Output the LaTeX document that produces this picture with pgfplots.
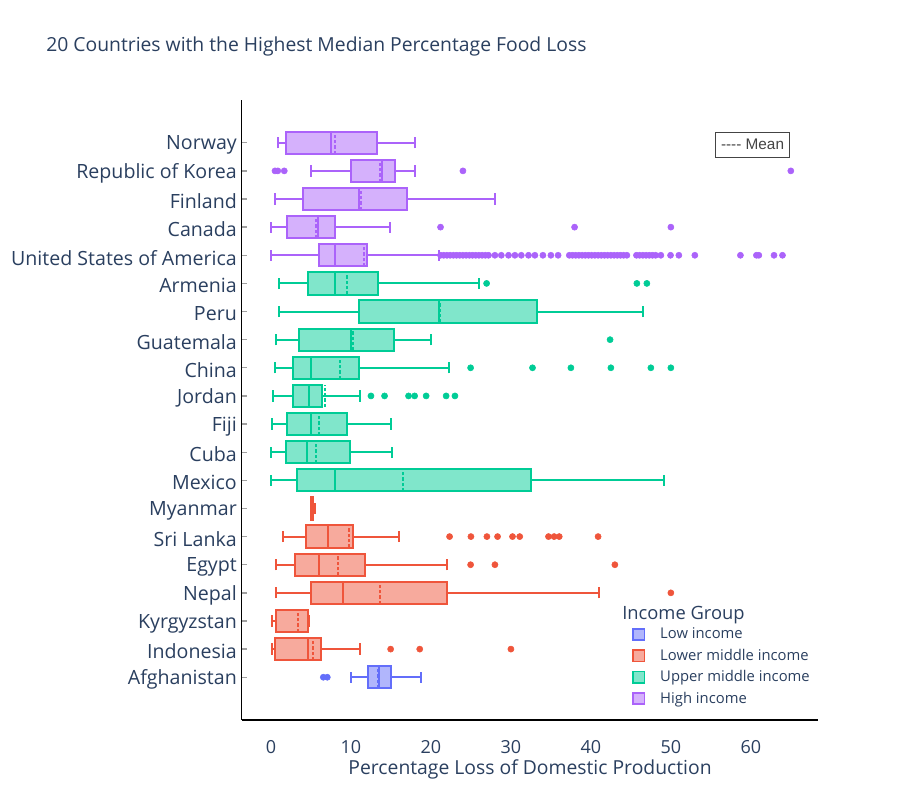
\documentclass[border=0pt]{standalone}
\usepackage{fontspec}
\setmainfont{Open Sans}
\newfontfamily\arialfont{Liberation Sans}
\usepackage{pgfplots}
\pgfplotsset{compat=1.18}
\usepgfplotslibrary{statistics}
\definecolor{lowc}{HTML}{636EFA}
\definecolor{lmc}{HTML}{EF553B}
\definecolor{umc}{HTML}{00CC96}
\definecolor{hic}{HTML}{AB63FA}
\definecolor{txt}{HTML}{2A3F5F}
\definecolor{meanc}{HTML}{444444}
\pgfplotsset{
  bx/.style={draw=#1, line width=1.5pt, solid,
    boxplot/draw direction=x,
    boxplot/every box/.style={fill=#1!50!white},
    boxplot/box extend=0.79, boxplot/whisker extend=0.4},
  outl/.style={only marks, mark=*, mark size=2.3pt, color=#1, mark options={draw=none, fill=#1}, forget plot},
  boxplot/draw/average/.code={%
    \draw[dash pattern=on 2.5pt off 1.5pt] (boxplot box cs:\pgfplotsboxplotvalue{average},0) -- (boxplot box cs:\pgfplotsboxplotvalue{average},1);},
  sq/.style={legend image code/.code={\draw[draw=#1, fill=#1!50!white, line width=1.3pt] (0pt,-4.2pt) rectangle (8.4pt,4.2pt);}}
}
\begin{document}
\begin{tikzpicture}
\useasboundingbox (0,0) rectangle (675pt,600pt);
\begin{axis}[
  at={(181.3pt,60pt)}, anchor=south west,
  scale only axis, width=432.2pt, height=465pt,
  xmin=-3.66, xmax=68.4, ymin=-1.52, ymax=20.52,
  axis lines*=left,
  axis line style={-, black, line width=0.8pt},
  xtick={0,10,...,60},
  xtick style={draw=none},
  ytick={0,...,19},
  yticklabels={Afghanistan,Indonesia,Kyrgyzstan,Nepal,Egypt,Sri Lanka,Myanmar,Mexico,Cuba,Fiji,Jordan,China,Guatemala,Peru,Armenia,United States of America,Canada,Finland,Republic of Korea,Norway},
  tick align=inside,
  ytick style={draw=gray!75, line width=1pt},
  major tick length=3.75pt,
  /pgf/number format/assume math mode=true,
  yticklabel style={font=\fontsize{14.7}{17}\selectfont, text=txt, inner sep=0pt, xshift=-3.5pt, yshift=-1.8pt},
  xticklabel style={font=\fontsize{13.5}{16}\selectfont, text=txt, yshift=-12pt},
  title={20 Countries with the Highest Median Percentage Food Loss},
  title style={at={(-0.3396,1.0903)}, anchor=west, yshift=-7.5pt, font=\fontsize{14.5}{17}\selectfont, text=txt, inner sep=0pt},
  xlabel={Percentage Loss of Domestic Production},
  xlabel style={at={(0.5003,-0.0774)}, anchor=center, yshift=-0.75pt, font=\fontsize{14.5}{17}\selectfont, text=txt, inner sep=0pt},
  legend style={at={(0.6773,0.1556)}, anchor=north west, draw=none, fill=none, inner sep=0pt,
    font=\fontsize{11.1}{13}\selectfont, text=txt, row sep=0pt, column sep=11.25pt,
    nodes={inner sep=0pt, minimum height=16pt}},
  legend cell align=left,
  clip=false,
]
\addlegendimage{sq=lowc}\addlegendentry{Low income}
\addlegendimage{sq=lmc}\addlegendentry{Lower middle income}
\addlegendimage{sq=umc}\addlegendentry{Upper middle income}
\addlegendimage{sq=hic}\addlegendentry{High income}

% High income
\addplot[bx=hic, boxplot prepared={draw position=19, lower whisker=0.83, lower quartile=1.9, median=7.46, upper quartile=13.25, upper whisker=17.96, average=8.0}] coordinates {};
\addplot[bx=hic, boxplot prepared={draw position=18, lower whisker=5.0, lower quartile=9.96, median=13.9, upper quartile=15.5, upper whisker=17.96, average=13.67}] coordinates {};
\addplot[outl=hic] coordinates {(0.5,18) (0.85,18) (1.66,18) (24.0,18) (65.0,18)};
\addplot[bx=hic, boxplot prepared={draw position=17, lower whisker=0.46, lower quartile=3.96, median=11.0, upper quartile=17.0, upper whisker=28.0, average=11.3}] coordinates {};
\addplot[bx=hic, boxplot prepared={draw position=16, lower whisker=0, lower quartile=1.96, median=5.83, upper quartile=8.04, upper whisker=14.9, average=5.67}] coordinates {};
\addplot[outl=hic] coordinates {(21.2,16) (37.96,16) (50.0,16)};
\addplot[bx=hic, boxplot prepared={draw position=15, lower whisker=0, lower quartile=5.96, median=8.0, upper quartile=12.0, upper whisker=21.0, average=11.67}] coordinates {};
\addplot[outl=hic] coordinates {
(21.2,15) (21.6,15) (22.0,15) (22.4,15) (22.8,15) (23.2,15) (23.6,15) (24.0,15)
(24.4,15) (24.8,15) (25.2,15) (25.6,15) (26.0,15) (26.4,15) (26.8,15) (27.2,15)
(28.0,15) (28.8,15) (29.7,15) (30.5,15) (31.3,15) (32.2,15) (33.0,15) (34.0,15) (35.0,15) (35.9,15)
(37.3,15) (37.7,15) (38.1,15) (38.5,15) (38.9,15) (39.3,15) (39.7,15) (40.1,15) (40.5,15) (40.9,15)
(41.3,15) (41.7,15) (42.1,15) (42.5,15) (42.9,15) (43.3,15) (43.7,15) (44.1,15) (44.5,15)
(45.7,15) (46.1,15) (46.5,15) (46.9,15) (47.3,15) (47.7,15) (48.1,15) (48.75,15) (49.96,15)
(51.0,15) (53.0,15) (58.7,15) (60.7,15) (61.0,15) (62.9,15) (63.96,15)};

% Upper middle income
\addplot[bx=umc, boxplot prepared={draw position=14, lower whisker=1.0, lower quartile=4.58, median=8.04, upper quartile=13.4, upper whisker=26.0, average=9.54}] coordinates {};
\addplot[outl=umc] coordinates {(26.96,14) (45.75,14) (47.0,14)};
\addplot[bx=umc, boxplot prepared={draw position=13, lower whisker=1.0, lower quartile=11.0, median=21.0, upper quartile=33.3, upper whisker=46.5, average=21.1}] coordinates {};
\addplot[bx=umc, boxplot prepared={draw position=12, lower whisker=0.58, lower quartile=3.54, median=9.96, upper quartile=15.4, upper whisker=20.0, average=10.2}] coordinates {};
\addplot[outl=umc] coordinates {(42.4,12)};
\addplot[bx=umc, boxplot prepared={draw position=11, lower whisker=0.5, lower quartile=2.7, median=4.96, upper quartile=11.0, upper whisker=22.2, average=8.58}] coordinates {};
\addplot[outl=umc] coordinates {(24.96,11) (32.7,11) (37.5,11) (42.5,11) (47.5,11) (50.0,11)};
\addplot[bx=umc, boxplot prepared={draw position=10, lower whisker=0.29, lower quartile=2.75, median=4.79, upper quartile=6.42, upper whisker=11.08, average=6.7}] coordinates {};
\addplot[outl=umc] coordinates {(12.5,10) (14.2,10) (17.2,10) (17.96,10) (19.4,10) (21.9,10) (23.0,10)};
\addplot[bx=umc, boxplot prepared={draw position=9, lower whisker=0.08, lower quartile=1.96, median=5.0, upper quartile=9.5, upper whisker=15.0, average=5.96}] coordinates {};
\addplot[bx=umc, boxplot prepared={draw position=8, lower whisker=0, lower quartile=1.83, median=4.5, upper quartile=9.92, upper whisker=15.08, average=5.58}] coordinates {};
\addplot[bx=umc, boxplot prepared={draw position=7, lower whisker=0, lower quartile=3.29, median=8.04, upper quartile=32.46, upper whisker=49.08, average=16.46}] coordinates {};

% Lower middle income
\addplot[bx=lmc, boxplot prepared={draw position=6, lower whisker=4.95, lower quartile=5.0, median=5.1, upper quartile=5.3, upper whisker=5.5, average=5.2}] coordinates {};
\addplot[bx=lmc, boxplot prepared={draw position=5, lower whisker=1.54, lower quartile=4.33, median=7.17, upper quartile=10.25, upper whisker=16.0, average=9.79}] coordinates {};
\addplot[outl=lmc] coordinates {(22.33,5) (25.0,5) (27.0,5) (28.33,5) (30.2,5) (31.1,5) (34.7,5) (35.4,5) (36.04,5) (40.9,5)};
\addplot[bx=lmc, boxplot prepared={draw position=4, lower whisker=0.58, lower quartile=3.04, median=6.04, upper quartile=11.8, upper whisker=22.04, average=8.33}] coordinates {};
\addplot[outl=lmc] coordinates {(24.96,4) (28.0,4) (43.0,4)};
\addplot[bx=lmc, boxplot prepared={draw position=3, lower whisker=0.58, lower quartile=4.96, median=8.96, upper quartile=22.04, upper whisker=41.0, average=13.6}] coordinates {};
\addplot[outl=lmc] coordinates {(50.0,3)};
\addplot[bx=lmc, boxplot prepared={draw position=2, lower whisker=0.17, lower quartile=0.67, median=4.6, upper quartile=4.67, upper whisker=4.75, average=3.375}] coordinates {};
\addplot[bx=lmc, boxplot prepared={draw position=1, lower whisker=0.17, lower quartile=0.54, median=4.58, upper quartile=6.2, upper whisker=11.1, average=5.29}] coordinates {};
\addplot[outl=lmc] coordinates {(14.96,1) (18.6,1) (30.0,1)};

% Low income
\addplot[bx=lowc, boxplot prepared={draw position=0, lower whisker=9.96, lower quartile=12.17, median=13.5, upper quartile=15.04, upper whisker=18.8, average=13.4}] coordinates {};
\addplot[outl=lowc] coordinates {(6.54,0) (7.04,0)};

\node[anchor=west, text=txt, font=\fontsize{13.75}{16}\selectfont, inner sep=0pt, yshift=-1.8pt] at (axis description cs:0.6599,0.1726) {Income Group};
\node[draw=meanc, line width=0.75pt, text=meanc, font=\arialfont\fontsize{11.5}{13}\selectfont, minimum width=56pt, minimum height=18.75pt, inner sep=0pt] at (axis description cs:0.8864,0.9282) {-{}-{}-{}- Mean};
\end{axis}
\end{tikzpicture}
\end{document}
